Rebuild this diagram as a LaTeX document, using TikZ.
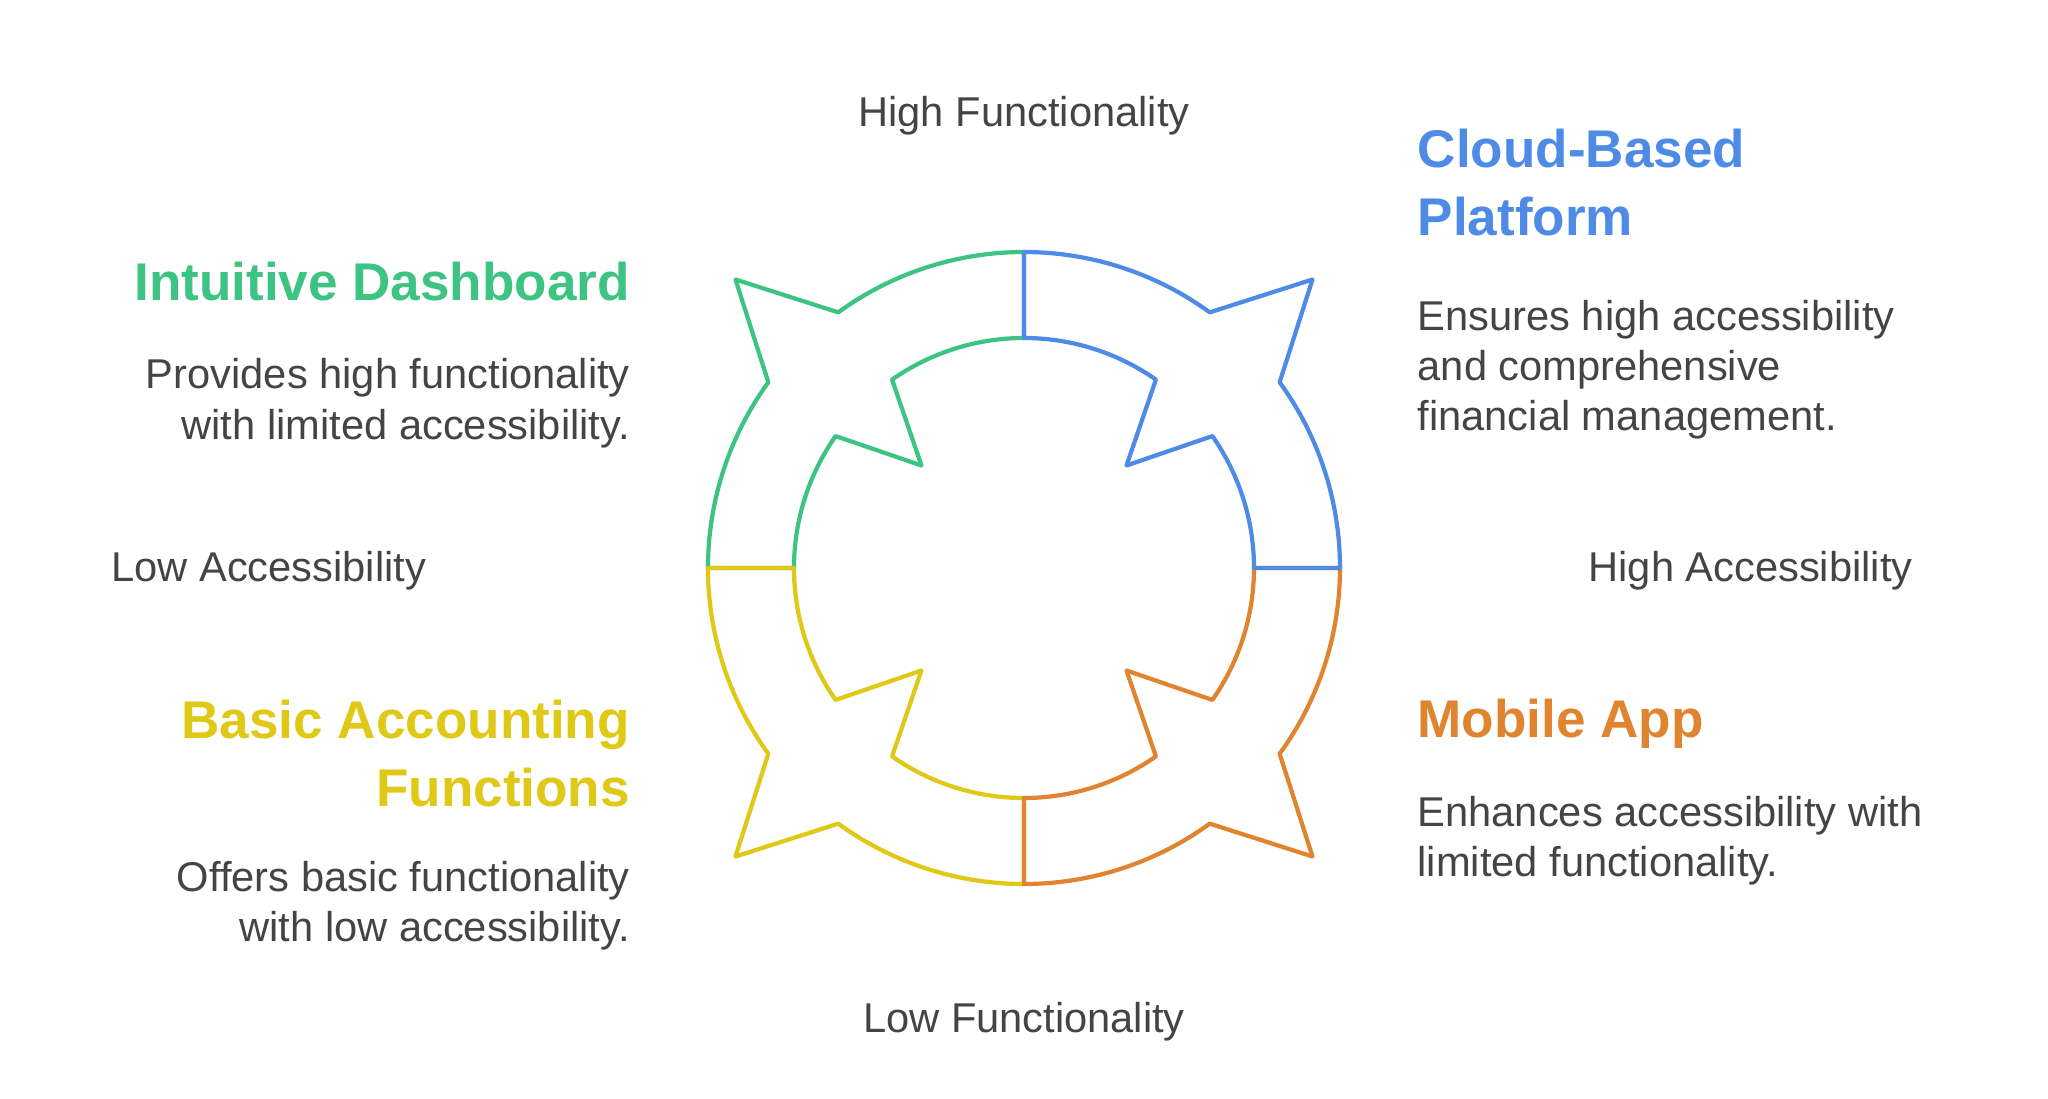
\documentclass[tikz,border=0pt]{standalone}
\usepackage{fontspec}
\setmainfont{Liberation Sans}
\usepackage{tikz}
\usetikzlibrary{positioning}
\definecolor{blue}{RGB}{78,139,230}
\definecolor{green}{RGB}{61,196,131}
\definecolor{yellow}{RGB}{224,201,22}
\definecolor{orange}{RGB}{224,132,48}
\definecolor{textgray}{RGB}{68,68,68}

\begin{document}
\begin{tikzpicture}[
    ring/.style={line width=1.2pt, line join=round},
    heading/.style={inner sep=0pt, font=\bfseries\fontsize{15.1}{19.2}\selectfont},
    blurb/.style={inner sep=0pt, text=textgray, font=\fontsize{11.85}{14.3}\selectfont},
    axislabel/.style={inner sep=0pt, text=textgray, font=\fontsize{11.85}{14.3}\selectfont}
  ]

% canvas (2048 x 1099 px, 1 px = 0.01 cm)
\useasboundingbox[fill=white] (-10.24,-5.31) rectangle (10.24,5.68);

%---------------------------------------
% Ring radii
%---------------------------------------
\def\Rin{2.30}
\def\Rout{3.16}
\def\Rtip{4.08}
\def\Rnotch{1.45}

%====================================================
% RING: four quadrants
%====================================================
\foreach \a/\col in {90/green, 180/yellow, 270/orange, 0/blue} {
  \draw[ring, \col] ({\a+90}:\Rin) -- ({\a+90}:\Rout)
      arc[start angle=\a+90, end angle=\a+54, radius=\Rout]
      -- ({\a+45}:\Rtip) -- ({\a+36}:\Rout)
      arc[start angle=\a+36, end angle=\a, radius=\Rout]
      -- (\a:\Rin)
      arc[start angle=\a, end angle=\a+35, radius=\Rin]
      -- ({\a+45}:\Rnotch) -- ({\a+55}:\Rin)
      arc[start angle=\a+55, end angle=\a+90, radius=\Rin]
      -- cycle;
}

%====================================================
% AXIS LABELS
%====================================================
\node[axislabel, anchor=base] (highfun) at (0,4.413) {High Functionality};
\node[axislabel, anchor=base] (lowfun) at (0,-4.643) {Low Functionality};
\node[axislabel, anchor=base west] (lowacc) at (-9.133,-0.137) {Low Accessibility};
\node[axislabel, anchor=base east] (highacc) at (8.893,-0.137) {High Accessibility};

%====================================================
% QUADRANT TEXTS (base = last line)
%====================================================
% Top left
\node[heading, green, anchor=base east] (dash) at (-3.935,2.68) {Intuitive Dashboard};
\node[blurb, anchor=base east, align=right] (dashtxt) at (-3.935,1.29)
    {Provides high functionality\\with limited accessibility.};

% Top right
\node[heading, blue, anchor=base west, align=left] (cloud) at (3.93,3.33)
    {Cloud-Based\\Platform};
\node[blurb, anchor=base west, align=left] (cloudtxt) at (3.93,1.373)
    {Ensures high accessibility\\and comprehensive\\financial management.};

% Bottom left
\node[heading, yellow, anchor=base east, align=right] (basic) at (-3.935,-2.38)
    {Basic Accounting\\Functions};
\node[blurb, anchor=base east, align=right] (basictxt) at (-3.935,-3.737)
    {Offers basic functionality\\with low accessibility.};

% Bottom right
\node[heading, orange, anchor=base west] (mobile) at (3.93,-1.69) {Mobile App};
\node[blurb, anchor=base west, align=left] (mobiletxt) at (3.93,-3.087)
    {Enhances accessibility with\\limited functionality.};

\end{tikzpicture}
\end{document}
